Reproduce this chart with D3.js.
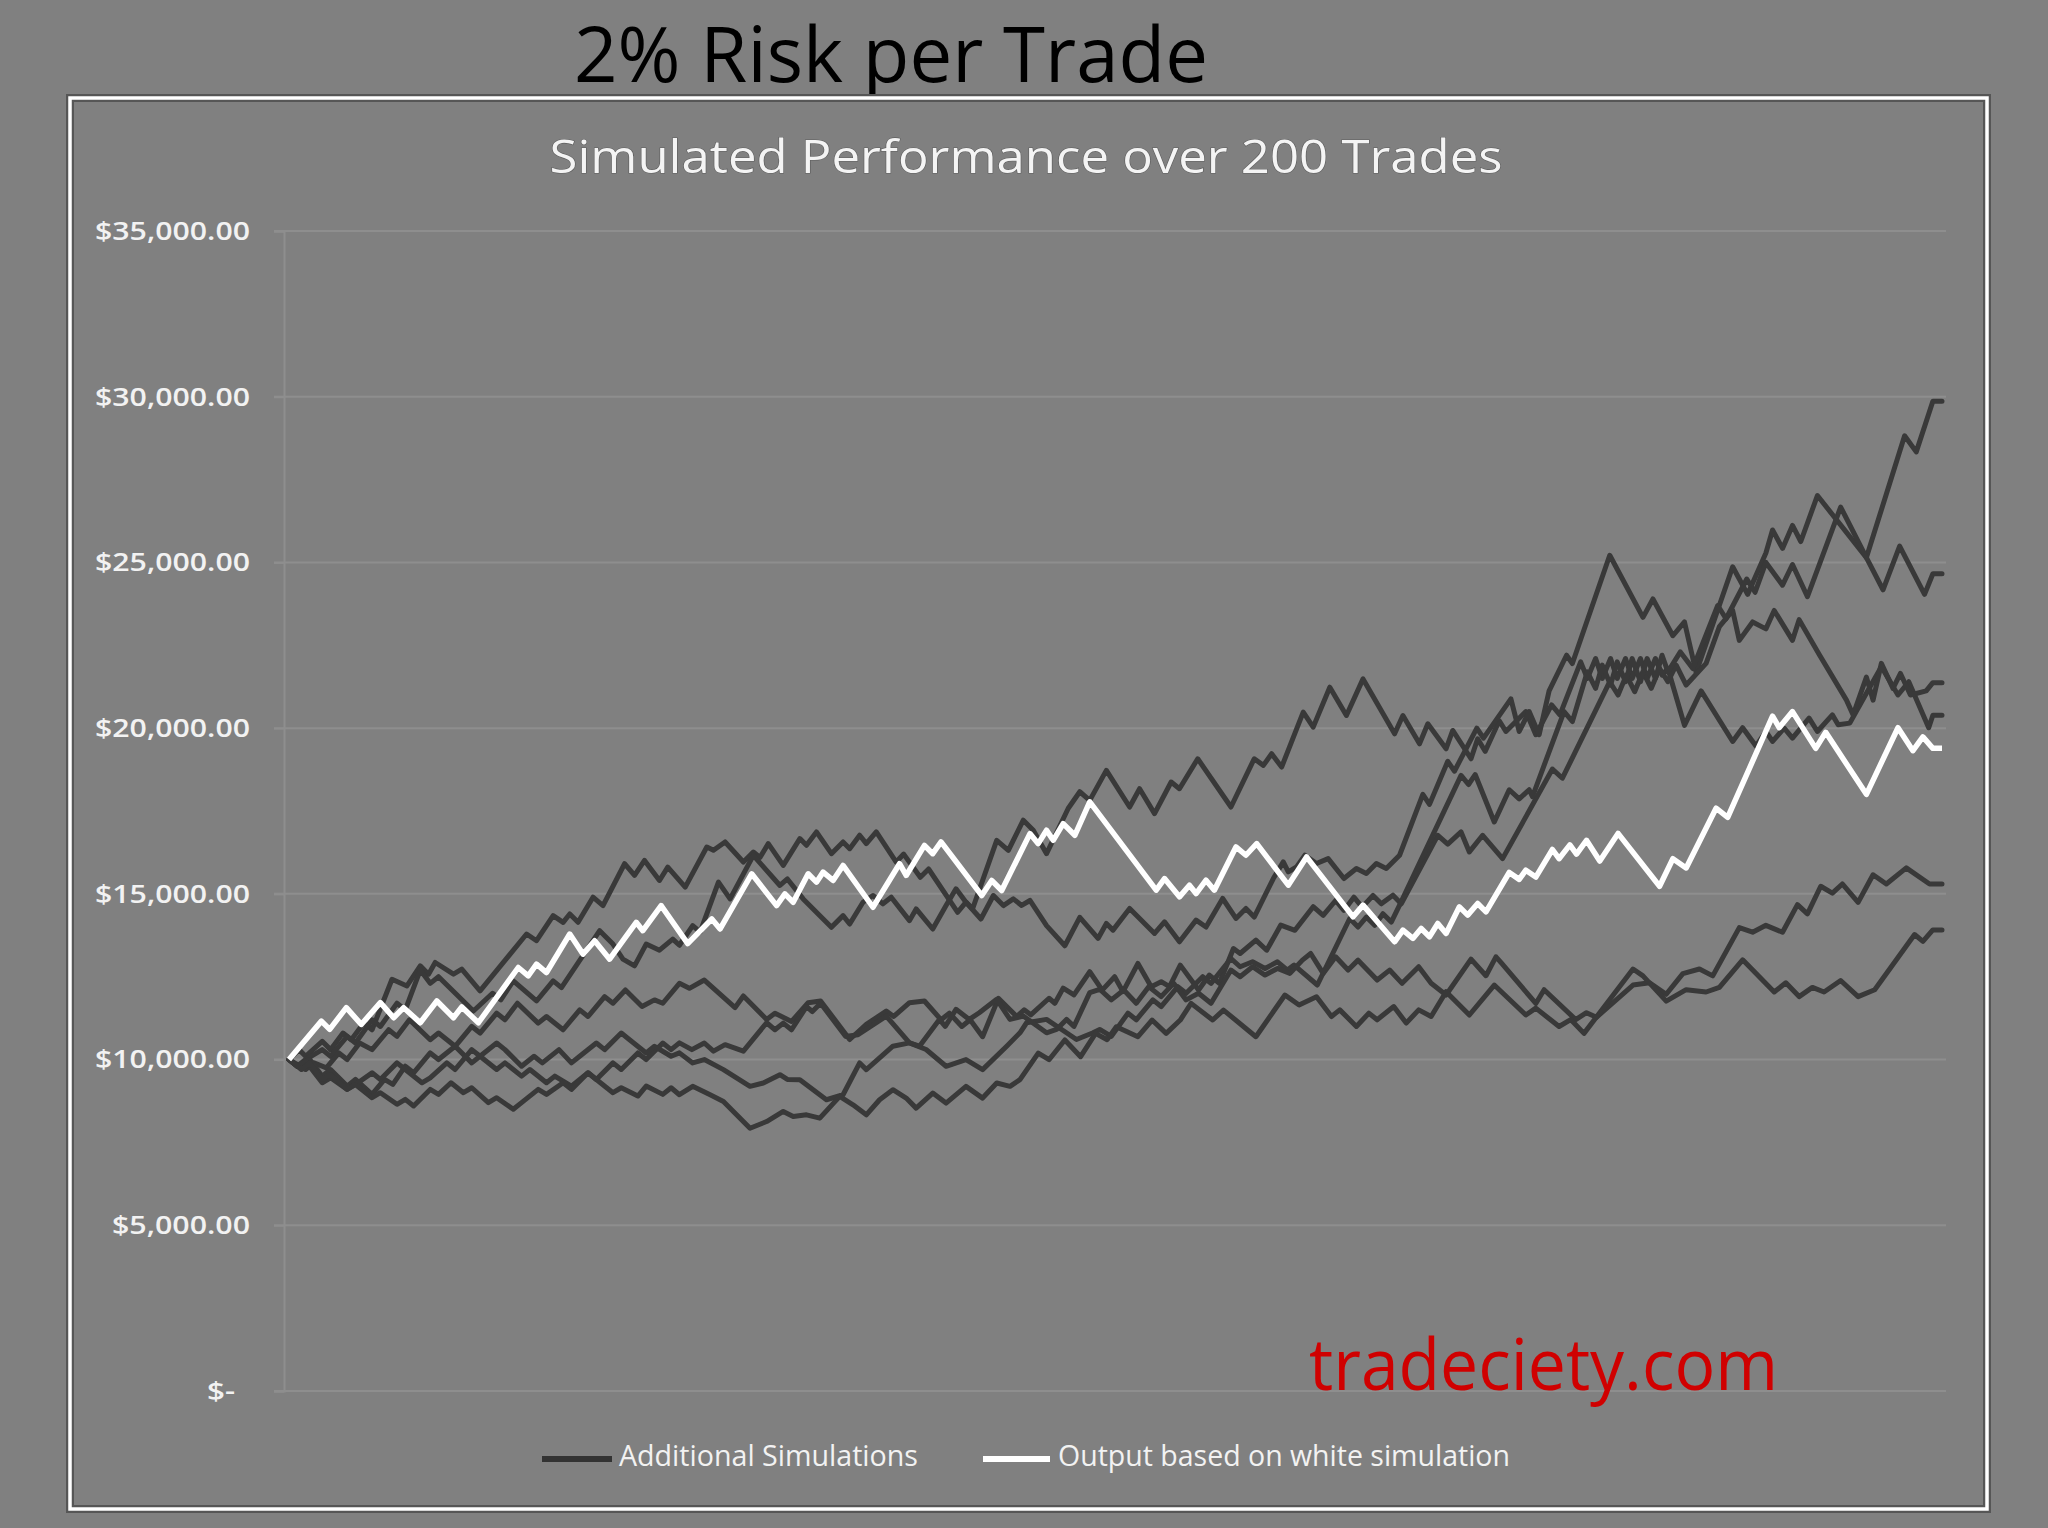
<!DOCTYPE html>
<html><head><meta charset="utf-8">
<script src="https://cdn.jsdelivr.net/npm/d3@7"></script>
<style>
html,body{margin:0;padding:0;background:#808080;}
svg{display:block;}
</style></head>
<body>
<svg id="c" width="2048" height="1528"></svg>
<script>
// ---------- DATA ----------
const yTicks = [0,5000,10000,15000,20000,25000,30000,35000];
const legendLabels = ["Additional Simulations","Output based on white simulation"];
const mainTitle = "2% Risk per Trade";
const chartTitle = "Simulated Performance over 200 Trades";
const watermark = "tradeciety.com";

// [trade number, account balance] at the turning points
const whiteSim = [[0,10000],[3.9,11160],[4.9,10910],[6.9,11566],[8.7,11060],[11,11717],[12.6,11262],[13.8,11566],[15.8,11111],[17.8,11768],[19.8,11262],[20.8,11586],[22.8,11111],[27.6,12778],[28.8,12525],[29.8,12879],[31,12626],[33.8,13788],[35.4,13182],[36.8,13586],[38.6,13030],[41.8,14141],[42.6,13889],[44.8,14646],[48,13500],[50.9,14242],[51.9,13940],[55.7,15606],[58.7,14646],[59.7,15000],[60.7,14747],[62.5,15606],[63.5,15353],[64.3,15656],[65.5,15404],[66.7,15858],[70.3,14596],[73.5,15909],[74.3,15555],[76.5,16464],[77.5,16212],[78.5,16566],[83.4,14950],[84.6,15404],[85.8,15101],[89.2,16818],[90.2,16515],[91.2,16919],[92,16616],[93.2,17121],[94.6,16767],[96.4,17778],[104.4,15110],[105.4,15462],[107.2,14910],[108.4,15261],[109.2,15010],[110.4,15412],[111.4,15110],[114,16416],[115.2,16165],[116.5,16516],[120.3,15261],[122.5,16115],[128.1,14307],[129.3,14659],[133.1,13554],[134.1,13906],[135.3,13655],[136.3,13956],[137.3,13705],[138.3,14106],[139.3,13805],[140.9,14608],[141.9,14358],[143.1,14709],[144.1,14458],[146.9,15645],[148.1,15437],[148.9,15714],[150.1,15506],[152.1,16338],[152.9,16061],[154.2,16477],[155,16200],[156.2,16616],[157.8,15991],[160,16824],[165,15229],[166.6,16061],[168.2,15783],[171.8,17586],[173.2,17309],[178.6,20360],[179.4,20013],[181,20499],[183.8,19390],[185,19875],[189.9,18003],[193.7,20013],[195.5,19320],[196.7,19736],[197.9,19390],[199,19390]];

const sim1 = [[0,10000],[1.2,10300],[2,10100],[4,10550],[5,10300],[6.5,10800],[7.5,10600],[9,11100],[10,10900],[12.4,12424],[14.2,12222],[15.8,12828],[16.8,12576],[17.6,12929],[19.8,12576],[20.8,12727],[23,12071],[28.6,13788],[29.8,13586],[31.8,14343],[33,14141],[33.8,14394],[34.8,14141],[36.6,14899],[37.8,14646],[40.4,15909],[41.6,15555],[42.8,16010],[44.6,15404],[45.6,15808],[47.7,15202],[50.3,16414],[51.1,16313],[52.5,16566],[54.7,15960],[55.9,16263],[56.7,16100],[57.7,16515],[59.5,15859],[61.5,16667],[62.3,16465],[63.5,16869],[65.3,16212],[66.7,16566],[67.5,16364],[68.7,16768],[69.5,16515],[70.7,16869],[73.1,15960],[74,16200],[76,15500],[77,15750],[80.5,14444],[81.5,14750],[82.3,14550],[85.2,16616],[86.6,16313],[88.4,17222],[89.6,16919],[91.2,16212],[93.8,17576],[95.2,18081],[96.4,17821],[98.4,18725],[101.2,17620],[102.4,18173],[104.2,17420],[106.2,18374],[107.2,18173],[109.4,19076],[113.4,17620],[116.2,19076],[117.3,18876],[118.3,19227],[119.5,18825],[122.1,20482],[123.3,20030],[125.3,21235],[127.3,20382],[129.3,21486],[133.1,19829],[134.1,20382],[136.1,19528],[137.1,20130],[139.3,19378],[140.1,19930],[142.3,19076],[143.1,19679],[144,19300],[145.7,20222],[146.5,19900],[148.9,20500],[150.1,19800],[152,20700],[153,20400],[155.5,22000],[156.3,21500],[157.3,22100],[158.1,21500],[159.1,22100],[159.9,21500],[160.9,22100],[161.7,21500],[162.7,22100],[163.5,21500],[164.5,22100],[165.3,21600],[166,21800],[168,20083],[170,21123],[173.8,19598],[175,20014],[176.6,19459],[177.8,19900],[178.6,19600],[180,20000],[181,19700],[183,20300],[184,19900],[185.8,20400],[186.5,20100],[187.9,20152],[190,21100],[191.7,21850],[193.7,21000],[195,21400],[197.4,20014],[197.9,20388],[199,20388]];

const sim2 = [[0,10000],[1,9800],[2,10000],[4,10300],[5,10100],[7,10700],[8,10500],[10,11200],[11,11000],[13,11700],[14,11500],[15.8,12700],[17,12300],[18,12500],[22.2,11465],[24.5,12000],[25.5,11800],[27,12374],[29.8,11768],[31.8,12374],[32.8,12172],[37.4,13889],[39,13485],[40.2,13030],[41.6,12828],[43,13485],[44.6,13300],[46.2,13636],[47,13450],[48.6,14040],[49.5,13850],[51.7,15353],[53.1,14848],[55.9,16162],[59.1,15253],[60,15450],[61.9,14848],[65.3,13990],[66.7,14343],[67.5,14091],[69.1,14747],[70.3,14950],[71.5,14700],[72.5,14900],[74.7,14192],[75.5,14545],[77.5,13939],[79.1,14646],[80.3,15152],[81.5,14747],[83.3,14242],[84.8,14949],[86,14646],[87.2,14848],[88.2,14650],[89.2,14800],[91.2,14040],[93.4,13434],[95.2,14293],[97.4,13655],[98.4,14107],[99.2,13906],[101.2,14558],[104.2,13805],[105.4,14157],[107.2,13554],[109.2,14207],[110.4,14000],[112.4,14860],[114,14257],[115.2,14558],[116.2,14300],[118.5,15462],[119.7,15964],[120.3,15663],[121.3,15814],[122.3,16165],[123.7,15914],[125.1,16064],[127,15462],[128.5,15763],[129.7,15613],[130.9,15914],[132.1,15763],[133.7,16165],[136.5,18000],[137.3,17700],[139.5,19000],[140.3,18700],[143,20000],[143.8,19700],[147.1,20884],[148.1,19900],[149.3,20500],[150.5,19800],[151.7,21123],[153.8,22200],[154.5,21950],[159,25215],[163,23342],[164.2,23897],[166.6,22788],[168,23204],[169.4,21678],[173.8,24868],[175.6,24036],[177.8,25284],[178.6,25978],[179.8,25423],[181,26116],[182,25631],[184,27018],[189.9,25146],[194.5,28821],[195.9,28336],[197.9,29861],[199,29861]];

const sim3 = [[0,10000],[2,9700],[3,9900],[4.5,9750],[6,10200],[7,10000],[8.5,10500],[10,10300],[12,10900],[13,10700],[14.5,11200],[17,10600],[18,10800],[20,10400],[22,11000],[23,10800],[25,11400],[26,11200],[27.5,11700],[30,11100],[31,11300],[33,10900],[35,11500],[36,11300],[38,11900],[39,11700],[40.5,12100],[42.5,11600],[44,11800],[45,11700],[47,12300],[48.2,12150],[50,12400],[53.7,11566],[54.7,11919],[57.5,11212],[58.5,11400],[60.5,11150],[62.5,11717],[64,11770],[67.5,10606],[69.5,11060],[71.9,11465],[72.8,11300],[74.7,11717],[76.5,11768],[78.5,11200],[79.5,11400],[81,11000],[82,11200],[83.5,10690],[85.4,11846],[87.6,11300],[88.5,11500],[89.3,11350],[91.5,11850],[92.2,11700],[93.2,12157],[94.5,11950],[96.4,12650],[97.9,12096],[99.4,12500],[100.4,12050],[102.2,12900],[103.8,12200],[105,12350],[106,12200],[107.3,12850],[109.5,12097],[110.8,12550],[112,12300],[113.7,13350],[114.5,13200],[116.4,13606],[117.7,13300],[119.4,14059],[121.1,13900],[123.3,14612],[124.5,14350],[126,14800],[127,14500],[128.2,14900],[129.2,14600],[130.5,14950],[131.5,14700],[132.9,14960],[133.9,14700],[138.3,16767],[139.5,16500],[141.1,16868],[142.1,16265],[143.7,16767],[146.1,16064],[152.1,18766],[153.3,18489],[159,21401],[160,21000],[161,21600],[162,21100],[163,21700],[164,21200],[165,21800],[166,21400],[167,21900],[168.2,21300],[170.6,21955],[172.2,23065],[173.8,23551],[174.6,22649],[176.2,23204],[177.8,22996],[178.8,23551],[181,22649],[181.8,23273],[184.2,22233],[187.5,20846],[188.3,20400],[189.9,21539],[190.7,20846],[191.7,21955],[193.1,21200],[194,21650],[195.2,21000],[197.1,21123],[197.9,21373],[199,21373]];

const sim4 = [[0,10000],[1,9800],[2.5,10000],[4,9500],[5,9700],[7,9200],[8,9400],[10,8950],[11.5,9400],[12.5,9250],[14,9800],[15,9600],[17,10200],[18,10000],[20,10400],[22,9900],[23,10100],[25,9700],[26,9900],[28,9500],[29,9700],[31,9300],[32,9500],[34,9200],[36,9600],[37,9400],[39,9900],[40,9700],[42,10200],[43,10000],[45,10500],[46,10300],[47,10505],[48.5,10300],[50,10500],[51.1,10253],[52.5,10450],[54.7,10253],[57.5,11111],[58.5,10900],[59.5,11100],[60.5,10900],[62.3,11600],[63,11450],[64,11700],[67,10700],[68.5,10750],[71.9,11313],[74.7,10505],[76.7,10303],[79.1,9798],[81.5,10000],[83.5,9697],[86.4,10404],[88,10808],[88.8,11111],[91.2,11212],[93.6,10808],[94.8,10606],[96.8,10808],[97.6,10909],[99,10700],[101,11400],[102,11200],[104,11800],[105,11600],[107,12200],[108,12000],[110,12500],[111,12300],[113.4,13050],[114.5,12800],[116,12950],[117.5,12750],[119,12950],[120.2,12700],[121,12850],[123.8,12250],[127.7,14257],[128.7,14000],[129.7,14300],[130.7,14050],[131.7,14400],[132.7,14150],[133.7,14659],[141.1,18574],[142,18300],[142.8,18600],[145.1,17169],[146.9,18141],[148.1,17864],[149.3,18141],[149.7,17933],[153.5,20500],[154.5,20200],[156.3,21700],[157.3,21200],[158.1,21900],[159.1,21300],[159.9,22000],[160.9,21400],[161.7,22100],[162.7,21400],[163.5,22100],[164.5,21500],[165.3,22200],[166,21700],[167.5,22300],[169,21800],[172,23700],[173,23300],[175.5,24500],[176.5,24100],[177.8,25000],[179.8,24313],[181,24938],[182.8,23967],[186.8,26671],[189.9,25146],[191.9,24175],[193.9,25492],[196.9,24036],[197.9,24660],[199,24660]];

const sim5 = [[0,10000],[1,9800],[2,9950],[4,9300],[5,9450],[7,9100],[8,9250],[10,9600],[11,9400],[13,9900],[14,9700],[16,9300],[17,9450],[19,9900],[20,9700],[22,10300],[23,10100],[25,10500],[26,10300],[28,9800],[29.5,10100],[30.5,9900],[32.5,10300],[34,9900],[35,10100],[37,10500],[38,10300],[40,10800],[41,10600],[43,10200],[44,10400],[46,10100],[47,10202],[48.6,9899],[50,10000],[52.3,9697],[55.5,9192],[57.1,9293],[59.1,9545],[60,9400],[61.5,9394],[64.7,8788],[66.7,8939],[68.7,9899],[69.5,9697],[72.7,10404],[74.7,10505],[75.9,10404],[78.3,11212],[79,11000],[80.3,11515],[81.9,11212],[83.1,11414],[85.2,11818],[86.8,11212],[88.4,11313],[91.2,10808],[92.4,10909],[93.6,11212],[94.5,11000],[96.4,12020],[97.6,12121],[99,11800],[100.5,12100],[102,11700],[103.5,12200],[105,11900],[106.5,12300],[108,11800],[109.5,12000],[111,11700],[113.4,12700],[114.5,12500],[116,12800],[117.5,12550],[119,12750],[120.5,12600],[122,13000],[123,13200],[124.5,12600],[126,13100],[127.5,12700],[128.7,13000],[131,12400],[132.5,12700],[134,12300],[136,12800],[137.5,12300],[139.3,11948],[142.3,13032],[144.1,12530],[145.3,13100],[146,12900],[150.1,11692],[151.1,12108],[154.9,11207],[156.2,11415],[157.4,11276],[161.8,12247],[163.8,12316],[165.8,11970],[167.8,12594],[169.8,12733],[171.4,12525],[174.6,13981],[176.2,13842],[177.8,14050],[179.8,13842],[181.6,14674],[182.8,14397],[184.4,15229],[185.8,15021],[187,15298],[188.9,14744],[190.7,15576],[192.3,15298],[194.7,15784],[197.5,15298],[199,15298]];

const sim6 = [[0,10000],[1.5,9700],[2.5,9900],[4,9400],[5,9550],[7,9100],[8,9250],[10,8850],[11,9000],[13,8650],[14,8800],[15,8600],[17,9100],[18,8950],[19.5,9300],[21,9000],[22,9150],[24,8700],[25,8850],[27,8500],[28,8700],[30,9100],[31,8950],[33,9300],[34,9100],[36,9600],[37,9400],[39,9000],[40,9150],[42,8900],[43,9200],[45,8950],[46,9150],[47,8939],[48.6,9192],[50.7,8939],[52.3,8737],[55.5,7929],[57.5,8131],[59.5,8434],[60.7,8283],[62.3,8333],[63.9,8232],[66.3,8889],[67.9,8636],[69.5,8333],[71.1,8788],[72.7,9091],[74.3,8838],[75.5,8535],[77.5,8990],[79.1,8687],[81.5,9192],[83.5,8838],[85.2,9293],[86.8,9192],[88,9394],[90.2,10197],[91.5,9996],[93.4,10590],[95.3,10087],[97.1,10790],[98.5,10600],[99.6,10992],[102.2,10690],[103.9,11193],[105.6,10790],[107.3,11193],[108.6,11696],[111.2,11193],[112.5,11494],[116.4,10690],[119.9,11947],[121.6,11646],[123.7,11897],[125.5,11300],[126.5,11500],[128.5,11000],[130,11400],[131,11200],[133,11600],[134.5,11100],[136,11500],[137.5,11300],[139.3,12048],[142.1,11345],[145.1,12249],[145.7,12108],[148.9,11345],[150.1,11553],[152.9,10998],[154.3,11207],[155.9,10790],[161.8,12732],[163,12524],[165.8,11762],[168.2,12108],[170.6,12039],[172.2,12177],[175,13010],[178.8,12039],[180.2,12316],[181.8,11900],[183.4,12177],[184.8,12039],[186.8,12385],[188.9,11900],[190.9,12108],[195.7,13773],[196.7,13565],[197.9,13911],[199,13911]];

const darkSims = [sim1, sim2, sim3, sim4, sim5, sim6];

// ---------- DRAW ----------
const svg = d3.select("#c");
const W = 2048, H = 1528;
const FONT = "'Open Sans', 'DejaVu Sans', sans-serif";

svg.append("rect").attr("width", W).attr("height", H).attr("fill", "#808080");

// main title
svg.append("text").attr("x", 574).attr("y", 82)
  .attr("font-family", FONT).attr("font-size", 77).attr("fill", "#000")
  .attr("textLength", 634).attr("lengthAdjust", "spacingAndGlyphs")
  .text(mainTitle);

// chart frame
svg.append("rect").attr("x", 70).attr("y", 98).attr("width", 1917).attr("height", 1411)
  .attr("fill", "none").attr("stroke", "#565656").attr("stroke-width", 8);
svg.append("rect").attr("x", 70).attr("y", 98).attr("width", 1917).attr("height", 1411)
  .attr("fill", "none").attr("stroke", "#ffffff").attr("stroke-width", 3.5);

// chart title
svg.append("text").attr("x", 1026).attr("y", 173).attr("text-anchor", "middle")
  .attr("font-family", FONT).attr("font-size", 46).attr("fill", "#f4f4f4")
  .attr("textLength", 953).attr("lengthAdjust", "spacingAndGlyphs")
  .style("paint-order", "stroke").attr("stroke", "#5e5e5e").attr("stroke-width", 1.2)
  .text(chartTitle);

// scales
const x = d3.scaleLinear().domain([0, 199]).range([289, 1942]);
const y = d3.scaleLinear().domain([0, 35000]).range([1391, 231]);
const plotLeft = 284, plotRight = 1946;

// gridlines
svg.append("g").selectAll("line").data(yTicks).join("line")
  .attr("x1", plotLeft - 10).attr("x2", plotRight)
  .attr("y1", d => y(d)).attr("y2", d => y(d))
  .attr("stroke", "#8e8e8e").attr("stroke-width", 2);

// y axis
const fmt = d3.format(",.2f");
const yAxis = d3.axisLeft(y).tickValues(yTicks).tickSize(10).tickPadding(24)
  .tickFormat(d => d === 0 ? "$-" : "$" + fmt(d));
const ag = svg.append("g").attr("transform", `translate(${plotLeft},0)`).call(yAxis);
ag.select(".domain").attr("stroke", "#8e8e8e").attr("stroke-width", 2);
ag.selectAll(".tick line").attr("stroke", "#8e8e8e").attr("stroke-width", 2);
ag.selectAll(".tick text")
  .attr("font-family", FONT).attr("font-size", 26).attr("fill", "#f2f2f2")
  .attr("font-weight", 600)
  .attr("textLength", d => d === 0 ? 28 : (d >= 10000 ? 155 : 138))
  .attr("lengthAdjust", "spacingAndGlyphs")
  .attr("dx", d => d === 0 ? -15 : 0);

// lines
const line = d3.line().x(d => x(d[0])).y(d => y(d[1]));
svg.append("g").selectAll("path").data(darkSims).join("path")
  .attr("d", line).attr("fill", "none").attr("stroke", "#393939")
  .attr("stroke-width", 5).attr("stroke-linejoin", "round").attr("stroke-linecap", "round");
svg.append("path").datum(whiteSim).attr("d", line).attr("fill", "none")
  .attr("stroke", "#ffffff").attr("stroke-width", 5.5).attr("stroke-linejoin", "round");

// legend
const leg = svg.append("g");
leg.append("line").attr("x1", 542).attr("x2", 612).attr("y1", 1459).attr("y2", 1459)
  .attr("stroke", "#333").attr("stroke-width", 6);
leg.append("text").attr("x", 619).attr("y", 1466)
  .attr("font-family", FONT).attr("font-size", 30).attr("fill", "#f2f2f2")
  .attr("textLength", 299).attr("lengthAdjust", "spacingAndGlyphs")
  .text(legendLabels[0]);
leg.append("line").attr("x1", 983).attr("x2", 1050).attr("y1", 1459).attr("y2", 1459)
  .attr("stroke", "#fff").attr("stroke-width", 6);
leg.append("text").attr("x", 1058).attr("y", 1466)
  .attr("font-family", FONT).attr("font-size", 30).attr("fill", "#f2f2f2")
  .attr("textLength", 452).attr("lengthAdjust", "spacingAndGlyphs")
  .text(legendLabels[1]);

// watermark
svg.append("text").attr("x", 1309).attr("y", 1390)
  .attr("font-family", FONT).attr("font-size", 72).attr("fill", "#d00000")
  .attr("textLength", 469).attr("lengthAdjust", "spacingAndGlyphs")
  .text(watermark);
</script>
</body></html>
